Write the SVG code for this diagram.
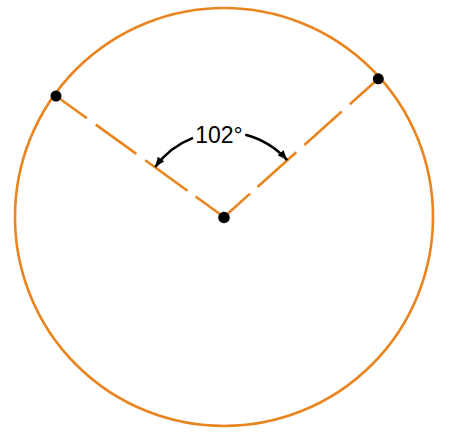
<svg xmlns="http://www.w3.org/2000/svg" width="450" height="433" viewBox="0 0 450 433">
  <style>
    .orange { fill: none; stroke: #E8851F; stroke-width: 2.6; }
    .radius { stroke-dasharray: 35 10 52 11 50 11 80; }
    .dot { fill: #000; }
    .arc { fill: none; stroke: #000; stroke-width: 2.6; marker-end: url(#arrow); }
    .label { font-family: "Liberation Sans", Arial, sans-serif; font-size: 23px; fill: #000; }
  </style>
  <defs>
    <marker id="arrow" viewBox="0 0 10 8" refX="10" refY="4" markerWidth="10" markerHeight="8" markerUnits="userSpaceOnUse" orient="auto">
      <path d="M0,0 L10,4 L0,8 Z" fill="#000"/>
    </marker>
  </defs>
  <rect width="450" height="433" fill="#fff"/>
  <g id="circle">
    <circle class="orange" cx="224" cy="217" r="209"/>
  </g>
  <g id="connectors">
    <line class="orange radius" x1="224" y1="217" x2="56" y2="96"/>
    <line class="orange radius" x1="224" y1="217" x2="378" y2="79"/>
    <path class="arc" d="M193,137.9 A85,85 0 0 0 155.2,167"/>
    <path class="arc" d="M245.3,134.7 A85,85 0 0 1 287.2,160.1"/>
  </g>
  <g id="center">
    <circle class="dot" cx="224" cy="217.5" r="5.8"/>
  </g>
  <g id="point-left">
    <circle class="dot" cx="56" cy="96" r="5.5"/>
  </g>
  <g id="point-right">
    <circle class="dot" cx="378.3" cy="78.8" r="5.5"/>
  </g>
  <g id="angle-label">
    <text class="label" x="219" y="142.5" text-anchor="middle">102°</text>
  </g>
</svg>
